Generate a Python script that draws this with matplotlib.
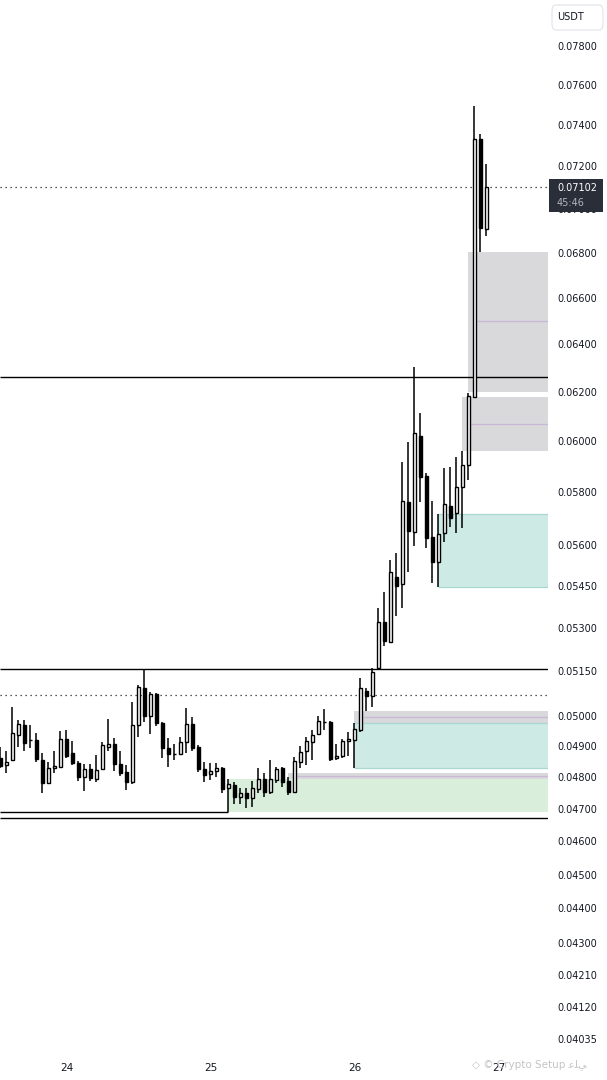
# Hourly candles, log price scale, zones + levels

import numpy as np
import matplotlib
matplotlib.use("Agg")
import matplotlib.pyplot as plt
from matplotlib.patches import Rectangle, FancyBboxPatch
from matplotlib.ticker import NullLocator

# Data, one candle per hour, index 0 = 23rd 13:00
opens = [0.04863, 0.04840, 0.04856, 0.04937, 0.04970, 0.04921, 0.04921, 0.04856, 0.04783, 0.04830,
         0.04834, 0.04924, 0.04879, 0.04846, 0.04802, 0.04827, 0.04795, 0.04827, 0.04898, 0.04908,
         0.04843, 0.04818, 0.04786, 0.04970, 0.05094, 0.05000, 0.05074, 0.04977, 0.04895, 0.04876,
         0.04876, 0.04914, 0.04974, 0.04898, 0.04827, 0.04811, 0.04821, 0.04830, 0.04767, 0.04776,
         0.04738, 0.04751, 0.04735, 0.04764, 0.04795, 0.04754, 0.04792, 0.04830, 0.04789, 0.04754,
         0.04850, 0.04885, 0.04914, 0.04941, 0.04980, 0.04980, 0.04863, 0.04869, 0.04918, 0.04921,
         0.04954, 0.05084, 0.05067, 0.05160, 0.05322, 0.05251, 0.05483, 0.05457, 0.05763, 0.05649,
         0.06021, 0.05863, 0.05630, 0.05538, 0.05645, 0.05747, 0.05721, 0.05820, 0.05906, 0.06179,
         0.07333, 0.06908]
closes = [0.04837, 0.04850, 0.04944, 0.04974, 0.04911, 0.04920, 0.04859, 0.04783, 0.04830, 0.04837,
          0.04924, 0.04869, 0.04846, 0.04802, 0.04827, 0.04798, 0.04824, 0.04905, 0.04908, 0.04843,
          0.04814, 0.04786, 0.04970, 0.05097, 0.05000, 0.05074, 0.04977, 0.04895, 0.04876, 0.04875,
          0.04914, 0.04974, 0.04895, 0.04827, 0.04808, 0.04821, 0.04830, 0.04764, 0.04779, 0.04738,
          0.04751, 0.04735, 0.04767, 0.04795, 0.04754, 0.04795, 0.04827, 0.04786, 0.04754, 0.04853,
          0.04882, 0.04918, 0.04937, 0.04983, 0.04979, 0.04859, 0.04869, 0.04918, 0.04924, 0.04957,
          0.05094, 0.05067, 0.05148, 0.05322, 0.05255, 0.05501, 0.05450, 0.05767, 0.05653, 0.06033,
          0.05859, 0.05627, 0.05538, 0.05642, 0.05755, 0.05702, 0.05820, 0.05906, 0.06183, 0.07333,
          0.06912, 0.07102]
highs = [0.04898, 0.04885, 0.05030, 0.04987, 0.04987, 0.04970, 0.04944, 0.04879, 0.04850, 0.04885,
         0.04951, 0.04954, 0.04918, 0.04853, 0.04843, 0.04843, 0.04872, 0.04914, 0.04990, 0.04928,
         0.04885, 0.04840, 0.05047, 0.05104, 0.05155, 0.05080, 0.05077, 0.04980, 0.04928, 0.04908,
         0.04931, 0.05027, 0.04997, 0.04905, 0.04850, 0.04846, 0.04846, 0.04834, 0.04795, 0.04786,
         0.04767, 0.04767, 0.04789, 0.04830, 0.04814, 0.04856, 0.04834, 0.04834, 0.04802, 0.04866,
         0.04901, 0.04931, 0.04954, 0.05000, 0.05023, 0.04983, 0.04908, 0.04924, 0.04947, 0.04977,
         0.05128, 0.05094, 0.05162, 0.05371, 0.05429, 0.05545, 0.05571, 0.05918, 0.05997, 0.06303,
         0.06114, 0.05875, 0.05767, 0.05717, 0.05894, 0.05898, 0.05938, 0.05961, 0.06195, 0.07495,
         0.07357, 0.07212]
lows = [0.04830, 0.04814, 0.04853, 0.04898, 0.04885, 0.04895, 0.04850, 0.04751, 0.04779, 0.04814,
        0.04830, 0.04863, 0.04840, 0.04789, 0.04757, 0.04789, 0.04786, 0.04824, 0.04885, 0.04821,
        0.04805, 0.04760, 0.04779, 0.04931, 0.04980, 0.04941, 0.04967, 0.04863, 0.04834, 0.04856,
        0.04872, 0.04879, 0.04885, 0.04818, 0.04786, 0.04792, 0.04802, 0.04751, 0.04691, 0.04716,
        0.04716, 0.04704, 0.04707, 0.04751, 0.04738, 0.04748, 0.04783, 0.04770, 0.04745, 0.04754,
        0.04830, 0.04840, 0.04856, 0.04941, 0.04954, 0.04853, 0.04856, 0.04863, 0.04869, 0.04830,
        0.04947, 0.05017, 0.05030, 0.05158, 0.05238, 0.05248, 0.05343, 0.05371, 0.05501, 0.05597,
        0.05763, 0.05589, 0.05462, 0.05448, 0.05612, 0.05668, 0.05645, 0.05664, 0.05848, 0.06179,
        0.06803, 0.06876]

price_ticks = [0.07800, 0.07600, 0.07400, 0.07200, 0.07000, 0.06800, 0.06600, 0.06400, 0.06200,
               0.06000, 0.05800, 0.05600, 0.05450, 0.05300, 0.05150, 0.05000, 0.04900, 0.04800,
               0.04700, 0.04600, 0.04500, 0.04400, 0.04300, 0.04210, 0.04120, 0.04035]
day_idx = [11, 35, 59, 83]
day_labels = ["24", "25", "26", "27"]

# zones: left candle index, bottom, top, colour
zone_left = [77.9, 76.9, 73.0, 58.9, 58.9, 47.9, 37.9]
zone_bottom = [0.06199, 0.05961, 0.05448, 0.04977, 0.04830, 0.04795, 0.04691]
zone_top = [0.06803, 0.06179, 0.05717, 0.05017, 0.04977, 0.04814, 0.04795]
zone_kind = ["gray", "gray", "teal", "gray", "teal", "gray", "green"]
mid_left = [79.4, 78.25, 60.4, 49.4]
mid_price = [0.06499, 0.06069, 0.04997, 0.04805]

level_lines = [0.06261, 0.05158, 0.04673]
short_level = 0.04691
dotted_lines = [0.07102, 0.05070]
last_price = "0.07102"
countdown = "45:46"

colors = {"gray": "#d9d9dc", "teal": "#cdeae5", "green": "#d9eedb"}

W, H = 607, 1080
fig = plt.figure(figsize=(W / 100, H / 100), dpi=100)
ax = fig.add_axes([0, 28 / H, 548 / W, 1052 / H])
ax.set_yscale("log")
ax.set_ylim(0.04000, 0.08041)
x_left, x_right = -0.083, 91.25
ax.set_xlim(x_left, x_right)
for s in ax.spines.values():
    s.set_visible(False)

# zones
for x0, b, t, k in zip(zone_left, zone_bottom, zone_top, zone_kind):
    ax.add_patch(Rectangle((x0, b), x_right - x0, t - b, facecolor=colors[k],
                           edgecolor="none", zorder=1))
    if k == "teal":
        ax.hlines([b, t], x0, x_right, color="#a8d8cf", lw=0.9, zorder=1.5)
for x0, p in zip(mid_left, mid_price):
    ax.hlines(p, x0, x_right, color="#c9b8d3", lw=0.9, zorder=1.5)

# levels
ax.hlines(level_lines, x_left, x_right, color="black", lw=1.0, zorder=2)
ax.hlines(short_level, x_left, 37.9, color="black", lw=1.0, zorder=2)
for p in dotted_lines:
    ax.axhline(p, color="#222222", lw=0.9, linestyle=(0, (1, 3)), zorder=2)

# candles
w = 0.6
for i in range(len(opens)):
    o, c, h, l = opens[i], closes[i], highs[i], lows[i]
    ax.vlines(i, l, h, color="black", lw=1.1, zorder=3)
    lo, hi = min(o, c), max(o, c)
    face = "white" if c >= o else "black"
    ax.add_patch(Rectangle((i - w / 2, lo), w, max(hi - lo, 1e-6), facecolor=face,
                           edgecolor="black", lw=1.0, zorder=4))

# axes / ticks
ax.yaxis.tick_right()
ax.set_yticks(price_ticks)
ax.set_yticklabels(["%.5f" % p for p in price_ticks])
ax.yaxis.set_minor_locator(NullLocator())
ax.tick_params(axis="y", length=0, pad=6.5, labelsize=7, labelcolor="#131722")
ax.set_xticks(day_idx)
ax.set_xticklabels(day_labels)
ax.tick_params(axis="x", length=0, pad=8, labelsize=7.5, labelcolor="#131722")

# currency box
fig.add_artist(FancyBboxPatch((552 / W, 1 - 30 / H), 51 / W, 25 / H, transform=fig.transFigure,
                              boxstyle="round,pad=0,rounding_size=0.006",
                              facecolor="white", edgecolor="#e0e3eb", lw=0.8, zorder=10))
fig.text(557 / W, 1 - 17 / H, "USDT", fontsize=7, color="#131722", va="center", zorder=11)

# last price tag
fig.add_artist(Rectangle((549 / W, 1 - 212 / H), 54 / W, 33 / H, transform=fig.transFigure,
                         facecolor="#2a2e39", edgecolor="none", zorder=10))
fig.text(557 / W, 1 - 188 / H, last_price, fontsize=7, color="white", va="center", zorder=11)
fig.text(557 / W, 1 - 203 / H, countdown, fontsize=7, color="#b2b5be", va="center", zorder=11)

# watermark
fig.text(472 / W, 1 - 1065 / H, "\u25c7 \u00a9 Crypto Setup \ufecb\ufee0\ufef2", fontsize=7.5,
         color="#c4c4c4", va="center", zorder=11)

fig.savefig("out.png", dpi=100)
